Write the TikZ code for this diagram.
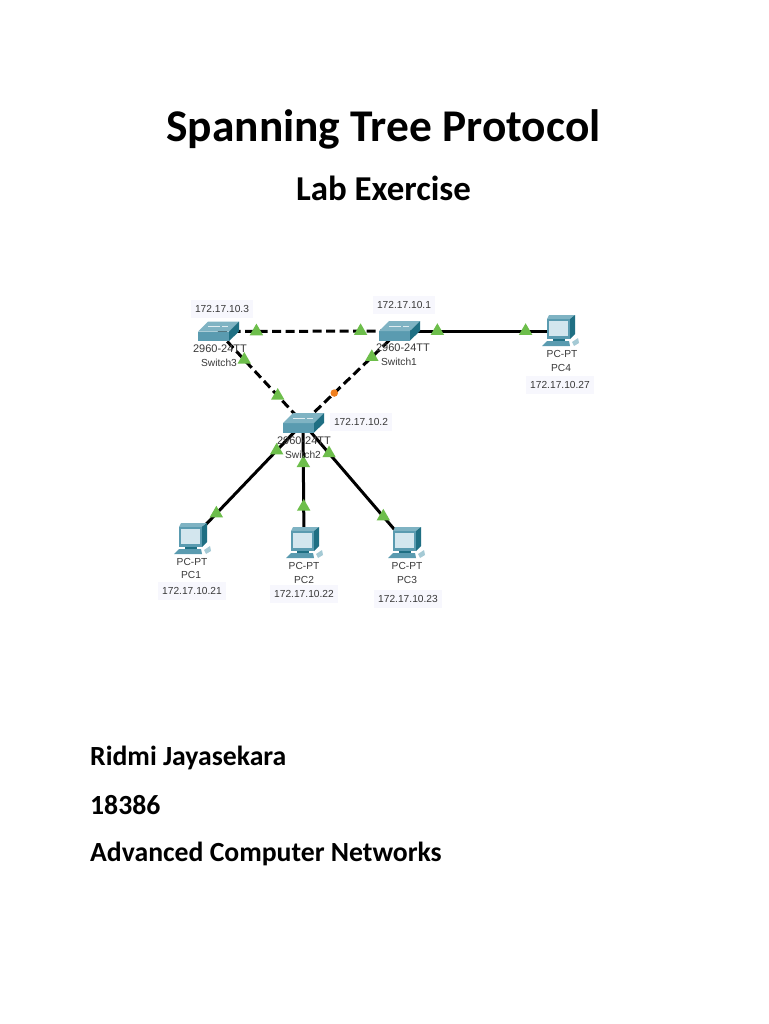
\documentclass[tikz,border=0pt]{standalone}
\usepackage{fontspec}
\setmainfont{Carlito}
\newfontfamily\labelfont{Liberation Sans}
\usetikzlibrary{shapes.geometric}
\definecolor{swfront}{HTML}{5A9BB0}
\definecolor{swtop}{HTML}{7FB3C3}
\definecolor{swside}{HTML}{1F6F83}
\definecolor{pcscreen}{HTML}{D3E6EE}
\definecolor{lamp}{HTML}{6DBE4B}
\definecolor{lampoff}{HTML}{F07F1E}
\definecolor{tagbg}{HTML}{F7F7FD}
\tikzset{
  x=1pt,y=-1pt,
  anchorpt/.style={inner sep=0pt,minimum size=1pt},
  link/.style={line width=3pt,black},
  trunk/.style={link,dash pattern=on 9pt off 4.5pt},
  up/.style={regular polygon,regular polygon sides=3,fill=lamp,inner sep=0pt,minimum size=15.5pt,draw=none,solid},
  amber/.style={circle,fill=lampoff,inner sep=0pt,minimum size=7.5pt,draw=none,solid},
  devtext/.style={font=\labelfont\fontsize{10.2}{11}\selectfont,text=black!78,inner sep=0pt},
  modeltext/.style={devtext,font=\labelfont\fontsize{11}{12}\selectfont},
  iptag/.style={devtext,fill=tagbg,inner xsep=4pt,inner ysep=5pt},
  heading/.style={font=\bfseries\fontsize{45.4}{50}\selectfont,anchor=base,inner sep=0pt},
  subheading/.style={font=\bfseries\fontsize{34.9}{38}\selectfont,anchor=base,inner sep=0pt},
  authorline/.style={font=\bfseries\fontsize{27.7}{31}\selectfont,anchor=base west,inner sep=0pt},
  switchicon/.pic={
    \fill[swfront] (-20,0) rectangle (11,9.5);
    \fill[swtop] (-20,0) -- (-10,-10) -- (21,-10) -- (11,0) -- cycle;
    \fill[swside] (11,0) -- (21,-10) -- (21,0) -- (11,9.5) -- cycle;
    \draw[white!75!swtop,line width=.5pt] (-10,-5) -- (2,-5) (4,-5) -- (10,-5);
  },
  pcicon/.pic={
    \fill[swtop] (-13,-12) -- (-11,-16) -- (15,-16) -- (10,-12) -- cycle;
    \fill[swfront] (-13,-12) rectangle (10,8);
    \fill[swside] (10,-12) -- (15,-16) -- (15,3) -- (10,8) -- cycle;
    \fill[pcscreen] (-11,-10) rectangle (8,5);
    \fill[swside] (-7,8) rectangle (5,10);
    \fill[swfront] (-13,10) -- (9,10) -- (10,15) -- (-18,15) -- cycle;
    \fill[swtop!70!white] (12,11) -- (18,7) -- (19,12) -- (14,15) -- cycle;
  }
}
\begin{document}
\begin{tikzpicture}
\useasboundingbox (0,0) rectangle (768,1024);
\fill[white] (0,0) rectangle (768,1024);

\node[heading] (title) at (383.5,141.5) {Spanning Tree Protocol};
\node[subheading] (subtitle) at (383.5,200.5) {Lab Exercise};
\node[authorline] (author) at (90,765) {Ridmi Jayasekara};
\node[authorline] (idnum) at (90,814) {18386};
\node[authorline] (course) at (90,861) {Advanced Computer Networks};

% device anchors
\node[anchorpt] (sw3) at (218,331.5) {};
\node[anchorpt] (sw1) at (399,331) {};
\node[anchorpt] (sw2) at (303,423) {};
\node[anchorpt] (pc1) at (192,539) {};
\node[anchorpt] (pc2) at (304,543) {};
\node[anchorpt] (pc3) at (406,543) {};
\node[anchorpt] (pc4) at (560,331) {};

% links
\draw[trunk] (sw3.center) -- (sw1.center);
\draw[trunk] (sw3.center) -- (sw2.center);
\draw[trunk] (sw1.center) -- (sw2.center);
\draw[link] (sw2.center) -- (pc1.center);
\draw[link] (sw2.center) -- (pc2.center);
\draw[link] (sw2.center) -- (pc3.center);
\draw[link] (sw1.center) -- (pc4.center);

% icons
\pic at (sw3) {switchicon};
\pic at (sw1) {switchicon};
\pic at (sw2) {switchicon};
\pic at (pc1) {pcicon};
\pic at (pc2) {pcicon};
\pic at (pc3) {pcicon};
\pic at (pc4) {pcicon};

% port lights
\path (sw3) -- node[up,pos=.21] (l1) {} node[up,pos=.79] (l2) {} (sw1);
\path (sw3) -- node[up,pos=.306] (l3) {} node[up,pos=.706] (l4) {} (sw2);
\path (sw1) -- node[up,pos=.28] (l5) {} node[amber,pos=.677] (l6) {} (sw2);
\path (sw2) -- node[up,pos=.234] (l7) {} node[up,pos=.784] (l8) {} (pc1);
\path (sw2) -- node[up,pos=.333] (l9) {} node[up,pos=.70] (l10) {} (pc2);
\path (sw2) -- node[up,pos=.25] (l11) {} node[up,pos=.783] (l12) {} (pc3);
\path (sw1) -- node[up,pos=.236] (l13) {} node[up,pos=.789] (l14) {} (pc4);

% labels
\node[iptag] (ip3) at (222,309) {172.17.10.3};
\node[iptag] (ip1) at (404,305) {172.17.10.1};
\node[iptag] (ip2) at (361,422) {172.17.10.2};
\node[iptag] (ip21) at (192,591) {172.17.10.21};
\node[iptag] (ip22) at (304,594) {172.17.10.22};
\node[iptag] (ip23) at (408,599) {172.17.10.23};
\node[iptag] (ip27) at (560,385) {172.17.10.27};

\node[modeltext] (m3) at (220,349) {2960-24TT};
\node[devtext] (n3) at (219,363) {Switch3};
\node[modeltext] (m1) at (403,348) {2960-24TT};
\node[devtext] (n1) at (399,362) {Switch1};
\node[modeltext] (m2) at (304,441) {2960-24TT};
\node[devtext] (n2) at (303,455) {Switch2};

\node[devtext] (t1) at (192,562) {PC-PT};
\node[devtext] (p1) at (191,575) {PC1};
\node[devtext] (t2) at (304,566) {PC-PT};
\node[devtext] (p2) at (304,580) {PC2};
\node[devtext] (t3) at (407,566) {PC-PT};
\node[devtext] (p3) at (407,580) {PC3};
\node[devtext] (t4) at (562,354) {PC-PT};
\node[devtext] (p4) at (561,368) {PC4};
\end{tikzpicture}
\end{document}
